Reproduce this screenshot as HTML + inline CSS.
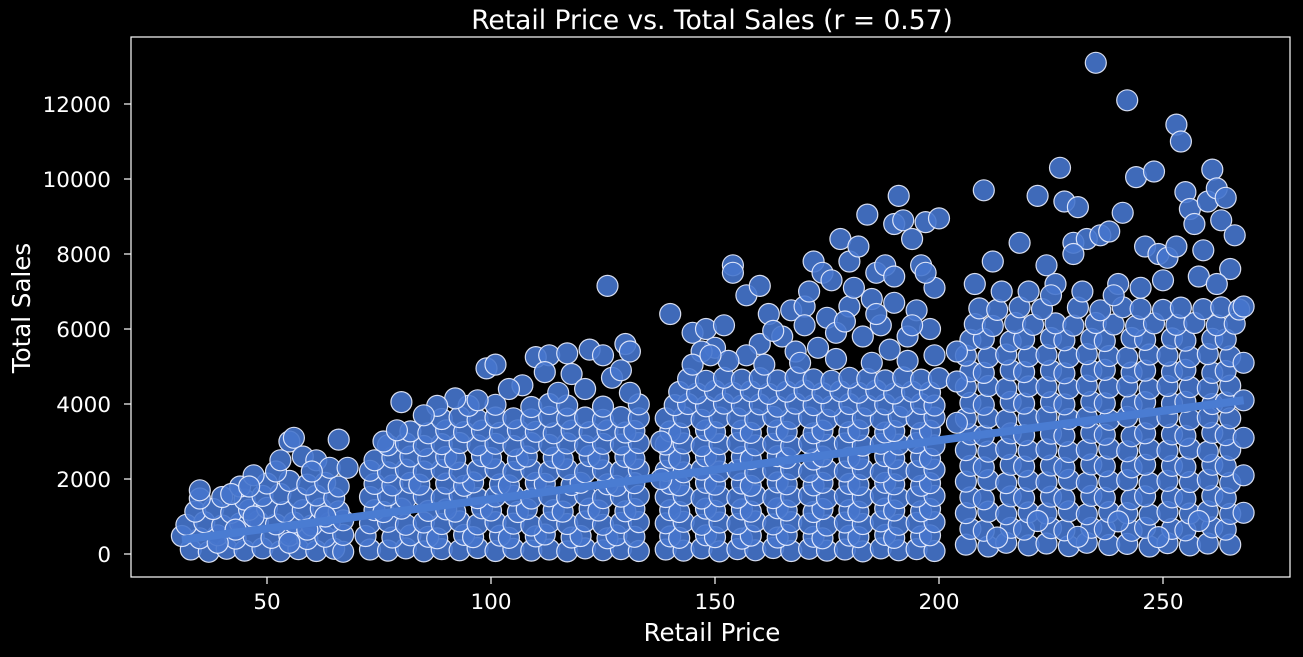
<!DOCTYPE html>
<html><head><meta charset="utf-8">
<style>
html,body{margin:0;padding:0;background:#000;}
svg{display:block;font-family:"DejaVu Sans","Liberation Sans",sans-serif;}
</style></head>
<body>
<svg id="chart" width="1303" height="657" viewBox="0 0 1303 657" xmlns="http://www.w3.org/2000/svg">
<rect x="0" y="0" width="1303" height="657" fill="#000"/>
<text x="712" y="29" fill="#fff" font-size="26.5" text-anchor="middle">Retail Price vs. Total Sales (r = 0.57)</text>
<text x="712" y="641" fill="#fff" font-size="24.5" text-anchor="middle">Retail Price</text>
<text transform="translate(30,308) rotate(-90)" fill="#fff" font-size="24.5" text-anchor="middle">Total Sales</text>
<g id="ticks"></g>
<g id="points"></g>
<g id="trend"></g>
<rect x="131" y="37" width="1159" height="540" fill="none" stroke="#fff" stroke-width="1.2"/>
</svg>
<script>
const xTicks = [50, 100, 150, 200, 250];
const yTicks = [0, 2000, 4000, 6000, 8000, 10000, 12000];
const trendX = [31, 268];
const trendY = [380, 4100];
const clusterA = [
[33,120],[37,60],[41,140],[45,90],[49,150],[53,70],[57,130],[61,80],[65,140],[67,60],
[31,480],[35,420],[39,500],[43,410],[47,470],[51,430],[55,490],[59,400],[63,460],[67,510],
[32,780],[36,850],[40,760],[44,820],[48,870],[52,790],[56,840],[60,760],[64,830],[67,900],
[34,1130],[38,1200],[42,1100],[46,1180],[50,1230],[54,1120],[58,1170],[62,1210],[66,1140],
[35,1480],[40,1520],[45,1450],[49,1550],[53,1600],[57,1500],[61,1560],[65,1490],
[44,1800],[50,1880],[55,1950],[59,1850],[63,1900],[66,1800],
[35,1700],[47,2100],[52,2200],[55,3000],[56,3100],[58,2600],[61,2500],[64,2300],[66,3050],[60,2200],[53,2500],[42,1600],[46,1800],[68,2300],[39,300],[43,650],[47,1000],[55,300],[59,650],[63,1000]
];
const clusterB = [
[73,120],[77,90],[81,150],[85,70],[89,130],[93,100],[97,160],[101,80],[105,140],[109,90],[113,120],[117,70],[121,150],[125,100],[129,130],[133,80],
[72,480],[78,440],[82,500],[86,460],[88,420],[94,510],[96,450],[102,490],[104,430],[110,470],[112,520],[118,440],[120,480],[126,420],[128,500],[132,460],
[73,820],[77,860],[81,780],[85,840],[89,800],[93,870],[97,790],[101,850],[105,810],[109,760],[113,840],[117,800],[121,870],[125,780],[129,830],[133,850],
[74,1170],[76,1120],[80,1210],[86,1150],[90,1190],[92,1130],[98,1220],[100,1160],[106,1120],[108,1200],[114,1170],[116,1130],[122,1210],[124,1160],[130,1140],[132,1200],
[73,1520],[77,1560],[81,1480],[85,1540],[89,1500],[93,1570],[97,1490],[101,1530],[105,1560],[109,1480],[113,1540],[117,1510],[121,1570],[125,1490],[129,1530],[133,1550],
[74,1870],[78,1830],[82,1900],[84,1850],[90,1880],[94,1820],[96,1910],[102,1860],[104,1830],[110,1900],[112,1870],[118,1840],[120,1900],[126,1860],[128,1820],[132,1890],
[73,2220],[77,2180],[81,2250],[85,2200],[89,2240],[93,2170],[97,2230],[101,2260],[105,2190],[109,2240],[113,2200],[117,2260],[121,2180],[125,2230],[129,2210],[133,2250],
[74,2500],[78,2570],[82,2600],[86,2540],[90,2590],[92,2530],[98,2610],[100,2560],[106,2520],[108,2600],[114,2570],[116,2530],[122,2610],[124,2550],[130,2590],[132,2540],
[77,2900],[81,2950],[85,2880],[89,2930],[93,2960],[97,2900],[101,2940],[105,2880],[109,2960],[113,2910],[117,2950],[121,2890],[125,2940],[129,2920],[133,2960],
[82,3270],[86,3220],[90,3300],[94,3250],[98,3290],[102,3230],[106,3300],[110,3260],[114,3220],[118,3290],[122,3250],[126,3300],[130,3240],[132,3280],
[89,3600],[93,3650],[97,3580],[101,3640],[105,3620],[109,3590],[113,3660],[117,3610],[121,3640],[125,3580],[129,3650],[133,3620],
[95,3950],[101,3980],[109,3920],[113,4000],[117,3960],[125,3930],[133,3990],
[80,4050],[99,4950],[101,5050],[110,5250],[113,5300],[117,5350],[122,5450],[126,7150],[125,5300],[130,5600],[131,5400],[107,4500],[118,4800],[127,4700],[92,4150],[88,3950],[85,3700],[76,3000],[79,3300],[129,4900],[104,4400],[112,4850],[121,4400],[115,4300],[131,4300],[97,4100]
];
const clusterC = [
[139,120],[143,90],[147,150],[151,70],[155,130],[159,100],[163,160],[167,80],[171,140],[175,90],[179,120],[183,70],[187,150],[191,100],[195,130],[199,80],
[140,470],[142,430],[148,500],[150,450],[156,410],[158,490],[164,440],[166,510],[172,460],[174,420],[180,490],[182,450],[188,510],[190,430],[196,470],[198,500],
[139,820],[143,860],[147,780],[151,840],[155,800],[159,870],[163,790],[167,850],[171,810],[175,760],[179,840],[183,800],[187,870],[191,780],[195,830],[199,850],
[140,1170],[142,1120],[148,1210],[150,1150],[156,1190],[158,1130],[164,1220],[166,1160],[172,1120],[174,1200],[180,1170],[182,1130],[188,1210],[190,1160],[196,1140],[198,1200],
[139,1520],[143,1560],[147,1480],[151,1540],[155,1500],[159,1570],[163,1490],[167,1530],[171,1560],[175,1480],[179,1540],[183,1510],[187,1570],[191,1490],[195,1530],[199,1550],
[140,1870],[142,1830],[148,1900],[150,1850],[156,1880],[158,1820],[164,1910],[166,1860],[172,1830],[174,1900],[180,1870],[182,1840],[188,1900],[190,1860],[196,1820],[198,1890],
[139,2220],[143,2180],[147,2250],[151,2200],[155,2240],[159,2170],[163,2230],[167,2260],[171,2190],[175,2240],[179,2200],[183,2260],[187,2180],[191,2230],[195,2210],[199,2250],
[140,2570],[142,2530],[148,2600],[150,2550],[156,2590],[158,2530],[164,2610],[166,2560],[172,2520],[174,2600],[180,2570],[182,2530],[188,2610],[190,2550],[196,2590],[198,2540],
[139,2920],[143,2950],[147,2880],[151,2930],[155,2960],[159,2900],[163,2940],[167,2880],[171,2960],[175,2910],[179,2950],[183,2890],[187,2940],[191,2920],[195,2960],[199,2900],
[140,3270],[142,3220],[148,3300],[150,3250],[156,3290],[158,3230],[164,3300],[166,3260],[172,3220],[174,3290],[180,3250],[182,3300],[188,3240],[190,3280],[196,3230],[198,3290],
[139,3620],[143,3650],[147,3580],[151,3640],[155,3620],[159,3590],[163,3660],[167,3610],[171,3640],[175,3580],[179,3650],[183,3620],[187,3590],[191,3660],[195,3610],[199,3640],
[141,3970],[144,4000],[148,3940],[152,4010],[156,3960],[160,3990],[164,3930],[168,4010],[172,3970],[176,3940],[180,4000],[184,3960],[188,3990],[192,3930],[196,4000],[199,3960],
[142,4320],[146,4280],[150,4350],[154,4300],[158,4340],[162,4270],[166,4330],[170,4360],[174,4290],[178,4340],[182,4300],[186,4360],[190,4280],[194,4330],[198,4310],
[144,4670],[148,4620],[152,4700],[156,4650],[160,4690],[164,4630],[168,4710],[172,4660],[176,4620],[180,4700],[184,4670],[188,4630],[192,4710],[196,4650],[200,4690],
[140,6400],[145,5900],[148,6000],[152,6100],[154,7700],[154,7500],[157,6900],[160,7150],[162,6400],[167,6500],[170,6600],[172,7800],[174,7500],[176,7300],[178,8400],[180,7800],[182,8200],[184,9050],[186,7500],[188,7700],[190,8800],[191,9550],[192,8900],[194,8400],[197,8850],[200,8950],[196,7700],[199,7100],[165,5800],[175,6300],[185,6800],[195,6500],[150,5500],[160,5600],[170,6100],[180,6600],[190,6700],[198,6000],[187,6100],[177,5900],[157,5300],[147,5400],[168,5400],[193,5800],[138,3000],[138,2000],
[145,5050],[153,5150],[161,5050],[169,5100],[177,5200],[185,5100],[193,5150],[199,5300],[149,5300],[173,5500],[189,5450],[183,5800],[163,5950],[179,6200],[194,6100],[186,6400],[171,7000],[181,7100],[190,7400],[197,7500]
];
const clusterD = [
[206,250],[211,200],[215,300],[220,230],[224,280],[229,210],[233,300],[238,240],[242,270],[247,200],[251,290],[256,230],[260,280],[265,250],
[207,670],[210,620],[216,700],[219,650],[225,690],[228,630],[234,700],[237,660],[243,620],[246,700],[252,670],[255,630],[261,710],[264,650],
[206,1090],[211,1130],[215,1060],[220,1110],[224,1080],[229,1140],[233,1060],[238,1120],[242,1090],[247,1050],[251,1120],[256,1080],[260,1140],[265,1070],
[207,1510],[210,1460],[216,1540],[219,1490],[225,1530],[228,1470],[234,1550],[237,1500],[243,1460],[246,1540],[252,1510],[255,1470],[261,1550],[264,1490],
[206,1930],[211,1970],[215,1890],[220,1950],[224,1910],[229,1980],[233,1900],[238,1940],[242,1970],[247,1890],[251,1950],[256,1920],[260,1980],[265,1900],
[207,2350],[210,2310],[216,2380],[219,2330],[225,2360],[228,2300],[234,2390],[237,2340],[243,2310],[246,2380],[252,2350],[255,2320],[261,2380],[264,2340],
[206,2770],[211,2730],[215,2800],[220,2750],[224,2790],[229,2720],[233,2780],[238,2810],[242,2740],[247,2790],[251,2750],[256,2810],[260,2730],[265,2780],
[207,3190],[210,3150],[216,3220],[219,3170],[225,3210],[228,3150],[234,3230],[237,3180],[243,3140],[246,3220],[252,3190],[255,3150],[261,3230],[264,3170],
[206,3610],[211,3640],[215,3570],[220,3630],[224,3660],[229,3600],[233,3640],[238,3580],[242,3660],[247,3610],[251,3650],[256,3590],[260,3640],[265,3620],
[207,4030],[210,3980],[216,4060],[219,4010],[225,4050],[228,3990],[234,4060],[237,4020],[243,3980],[246,4050],[252,4010],[255,4060],[261,4000],[264,4040],
[206,4450],[211,4480],[215,4410],[220,4470],[224,4450],[229,4420],[233,4490],[238,4440],[242,4470],[247,4410],[251,4480],[256,4450],[260,4420],[265,4490],
[207,4870],[210,4830],[216,4900],[219,4850],[225,4890],[228,4820],[234,4880],[237,4910],[243,4840],[246,4890],[252,4850],[255,4910],[261,4830],[264,4880],
[206,5290],[211,5250],[215,5320],[220,5270],[224,5310],[229,5250],[233,5330],[238,5280],[242,5240],[247,5320],[251,5290],[256,5250],[260,5330],[265,5270],
[207,5710],[210,5740],[216,5670],[219,5730],[225,5760],[228,5700],[234,5740],[237,5680],[243,5760],[246,5710],[252,5750],[255,5690],[261,5740],[264,5720],
[208,6130],[212,6080],[217,6160],[221,6110],[226,6150],[230,6090],[235,6160],[239,6120],[244,6080],[248,6150],[253,6110],[257,6160],[262,6100],[266,6140],
[209,6550],[213,6510],[218,6580],[223,6530],[231,6570],[236,6500],[241,6580],[245,6540],[250,6510],[254,6570],[259,6530],[263,6580],[267,6520],
[208,7200],[210,9700],[212,7800],[218,8300],[222,9550],[224,7700],[227,10300],[228,9400],[230,8300],[231,9250],[233,8400],[235,13100],[236,8500],[238,8600],[240,7200],[241,9100],[242,12100],[244,10050],[246,8200],[248,10200],[249,8000],[251,7900],[253,11450],[254,11000],[255,9650],[256,9200],[257,8800],[258,7400],[259,8100],[260,9400],[261,10250],[262,9750],[263,8900],[264,9500],[265,7600],[266,8500],[268,6600],[214,7000],[220,7000],[226,7200],[232,7000],[245,7100],[250,7300],[262,7200],[253,8200],[230,8000],[239,6900],[225,6900],
[268,1100],[268,2100],[268,3100],[268,4100],[268,5100],[204,3500],[204,4600],[204,5400],[213,440],[231,460],[249,450],[258,880],[222,880],[240,870]
];
const NS = 'http://www.w3.org/2000/svg';
function xScale(v){ return 267 + (v - 50) * 4.48; }
function yScale(v){ return 554 - v * 0.0375; }

const tickG = document.getElementById('ticks');
xTicks.forEach(function(t){
  const px = xScale(t);
  const ln = document.createElementNS(NS,'line');
  ln.setAttribute('x1',px); ln.setAttribute('x2',px);
  ln.setAttribute('y1',577); ln.setAttribute('y2',584);
  ln.setAttribute('stroke','#fff'); ln.setAttribute('stroke-width','1.2');
  
  
  tickG.appendChild(ln);
  const tx = document.createElementNS(NS,'text');
  tx.setAttribute('x',px); tx.setAttribute('y',609);
  tx.setAttribute('fill','#fff'); tx.setAttribute('font-size','21.5');
  tx.setAttribute('text-anchor','middle');
  tx.textContent = String(t);
  
  
  tickG.appendChild(tx);
});
yTicks.forEach(function(t){
  const py = yScale(t);
  const ln = document.createElementNS(NS,'line');
  ln.setAttribute('x1',124); ln.setAttribute('x2',131);
  ln.setAttribute('y1',py); ln.setAttribute('y2',py);
  ln.setAttribute('stroke','#fff'); ln.setAttribute('stroke-width','1.2');
  
  
  tickG.appendChild(ln);
  const tx = document.createElementNS(NS,'text');
  tx.setAttribute('x',111); tx.setAttribute('y',py + 8);
  tx.setAttribute('fill','#fff'); tx.setAttribute('font-size','21.5');
  tx.setAttribute('text-anchor','end');
  tx.textContent = String(t);
  
  
  tickG.appendChild(tx);
});

const ptG = document.getElementById('points');
[clusterA, clusterB, clusterC, clusterD].forEach(function(cluster){
  cluster.forEach(function(p){
    const c = document.createElementNS(NS,'circle');
    c.setAttribute('cx', xScale(p[0]).toFixed(1));
    c.setAttribute('cy', yScale(p[1]).toFixed(1));
    c.setAttribute('r', '10.5');
    c.setAttribute('fill', 'rgba(70,118,205,0.9)');
    c.setAttribute('stroke', 'rgba(235,240,255,0.9)');
    c.setAttribute('stroke-width', '1.2');
    
    
    ptG.appendChild(c);
  });
});

const trendG = document.getElementById('trend');
const tl = document.createElementNS(NS,'line');
tl.setAttribute('x1', xScale(trendX[0])); tl.setAttribute('y1', yScale(trendY[0]));
tl.setAttribute('x2', xScale(trendX[1])); tl.setAttribute('y2', yScale(trendY[1]));
tl.setAttribute('stroke', '#4a7cd2'); tl.setAttribute('stroke-width', '8');


trendG.appendChild(tl);
</script>
</body></html>
